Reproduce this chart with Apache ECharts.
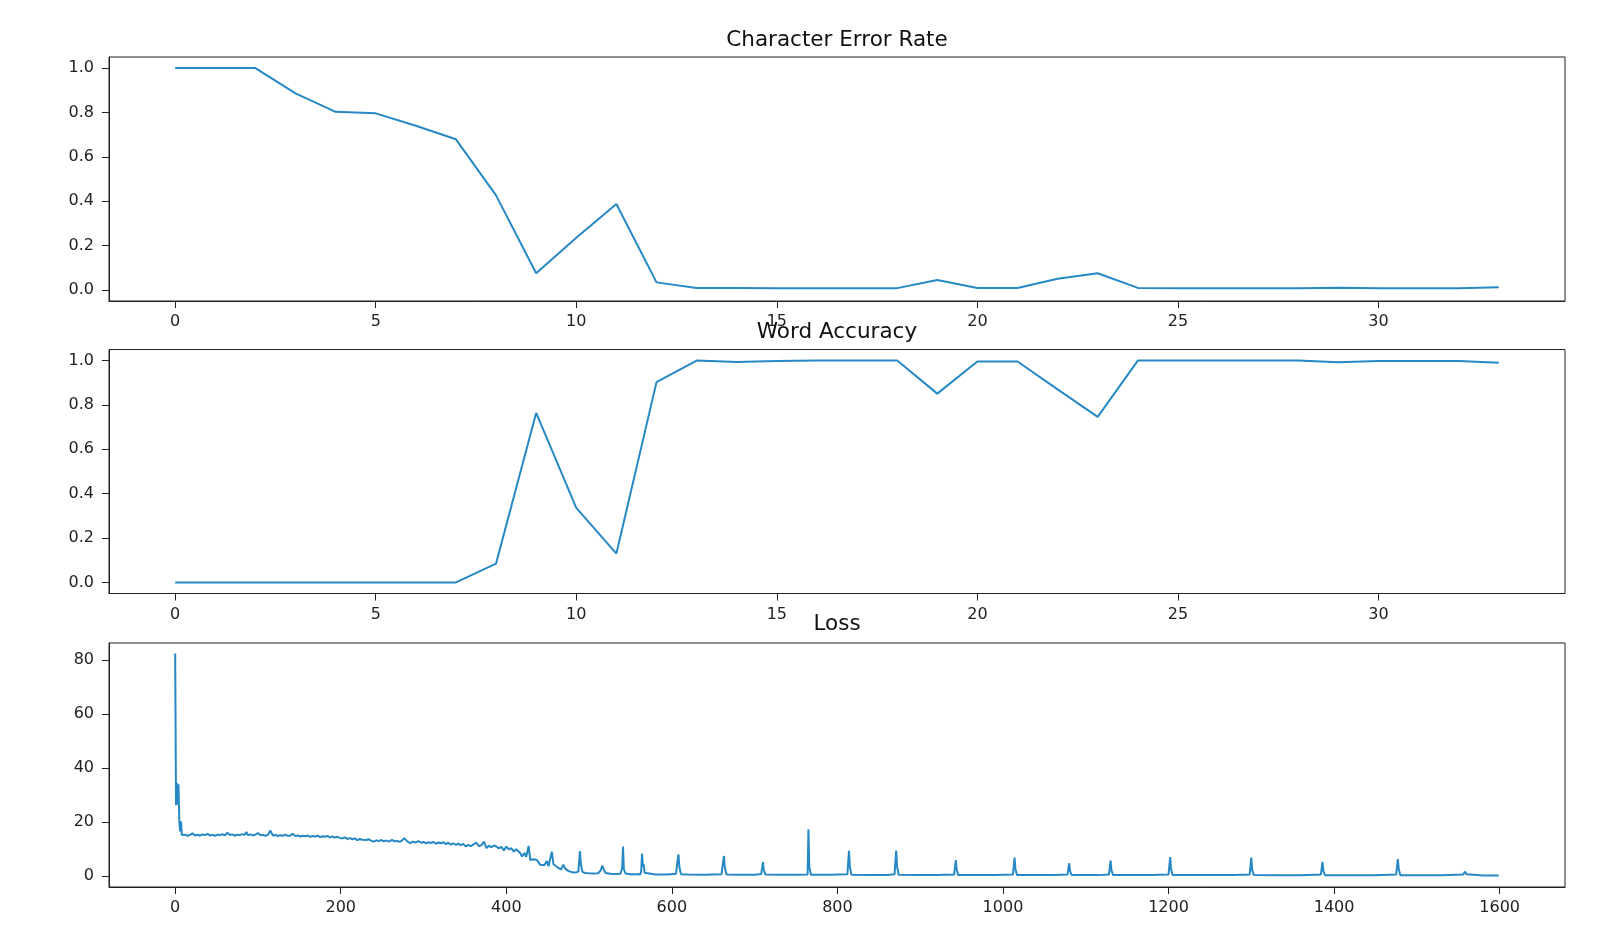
<!DOCTYPE html>
<html>
<head>
<meta charset="utf-8">
<script src="https://cdn.jsdelivr.net/npm/echarts@6/dist/echarts.min.js"></script>
<style>
html,body{margin:0;padding:0;background:#fff;}
#chart{width:1600px;height:949px;}
</style>
</head>
<body>
<div id="chart"></div>
<script>
// ---------------- DATA ----------------
const epochs = [0,1,2,3,4,5,6,7,8,9,10,11,12,13,14,15,16,17,18,19,20,21,22,23,24,25,26,27,28,29,30,31,32,33];

const cerValues = [1.0,1.0,1.0,0.886,0.803,0.796,0.740,0.679,0.426,0.075,0.235,0.387,0.034,0.009,0.009,0.008,0.008,0.008,0.008,0.045,0.009,0.009,0.050,0.075,0.009,0.008,0.008,0.008,0.008,0.010,0.008,0.008,0.008,0.012];

const wordAccValues = [0.0,0.0,0.0,0.0,0.0,0.0,0.0,0.0,0.085,0.764,0.336,0.130,0.903,1.0,0.994,0.998,1.0,1.0,1.0,0.851,0.996,0.996,0.870,0.746,1.0,1.0,1.0,1.0,1.0,0.992,0.998,0.998,0.998,0.990];

// [training step, loss]
const lossPoints = [
[0,82.4],[1,26.2],[2,34.5],[3,26.5],[4,34.0],[5,19.8],[6,16.5],[7,20.2],[8,15.2],
[9,15.0],[12,15.3],[15,14.9],[18,15.2],[21,15.8],[24,15.0],[27,15.3],[30,14.9],[33,15.4],[36,15.1],
[39,15.6],[42,15.0],[45,15.2],[48,14.9],[51,15.3],[54,15.1],[57,15.5],[60,15.0],[63,16.0],[66,15.2],
[69,15.4],[72,14.9],[75,15.3],[78,15.1],[81,15.5],[84,15.2],[86,16.3],[88,15.1],[91,15.4],[94,15.0],
[97,15.3],[100,15.9],[103,15.1],[106,15.2],[109,14.9],[112,15.2],[115,16.8],[118,15.0],[121,15.2],[124,14.8],
[127,15.1],[130,14.9],[133,15.3],[136,14.8],[139,15.0],[142,15.6],[145,14.8],[148,15.0],[151,14.6],[154,14.9],
[157,14.7],[160,15.0],[163,14.5],[166,14.8],[169,14.6],[172,14.9],[175,14.4],[178,14.7],[181,14.5],[184,14.8],
[187,14.3],[190,14.6],[193,14.2],[196,14.5],[199,14.1],[202,13.9],[205,14.3],[208,13.7],[211,14.0],[214,13.6],
[217,13.9],[220,13.2],[223,13.7],[226,13.4],[228,14.1],[231,13.3],[234,13.6],[237,13.0],[240,12.7],[243,13.2],
[246,12.9],[249,13.3],[252,12.8],[255,13.1],[258,12.7],[262,13.4],[265,12.8],[268,13.0],[271,12.6],[274,13.1],
[277,14.0],[280,12.9],[284,12.1],[287,12.7],[290,12.4],[294,12.9],[297,12.3],[300,12.6],[303,12.1],[306,12.5],
[309,12.2],[312,12.6],[315,11.9],[318,12.4],[321,12.1],[324,12.5],[327,11.8],[330,12.3],[333,11.6],[336,12.1],
[339,11.5],[342,12.0],[345,11.4],[348,11.9],[351,10.9],[354,11.5],[357,11.0],[360,11.6],[364,12.3],[367,11.0],
[370,11.4],[373,12.7],[376,10.3],[379,11.2],[382,10.6],[385,11.3],[388,10.9],[391,10.2],[394,10.8],[397,9.4],
[400,10.9],[403,9.8],[406,10.3],[409,9.0],[412,9.9],[414,10.4],[417,8.4],[419,7.2],[422,8.5],[424,7.0],
[427,11.1],[429,5.9],[431,6.6],[433,6.2],[435,6.8],[437,5.9],[439,5.3],[441,4.1],[443,4.7],[446,4.0],
[449,5.5],[451,3.6],[453,3.9],[455,9.0],[457,4.3],[460,3.6],[463,3.0],[466,2.4],[469,4.2],[471,2.8],
[474,2.0],[477,1.6],[480,1.4],[484,1.3],[487,1.6],[489,9.2],[490,4.5],[492,1.5],[495,1.1],[500,1.0],
[506,0.9],[511,1.0],[514,2.0],[516,3.8],[518,2.2],[520,1.1],[526,0.8],[532,0.7],[538,0.8],[540,3.0],
[541,10.9],[542,2.5],[544,0.9],[550,0.6],[557,0.6],[562,0.6],[563,2.0],[564,8.3],[565,3.5],[566,4.3],
[567,1.2],[569,0.6],[580,0.5],[595,0.5],[605,0.8],[607,6.0],[608,8.0],[609,3.5],[611,0.6],[620,0.5],
[640,0.4],[660,0.6],[662,5.5],[663,7.4],[664,3.0],[666,0.5],[680,0.4],[700,0.4],[708,0.7],[710,5.1],
[711,2.4],[713,0.5],[730,0.4],[750,0.4],[764,0.5],[765,17.3],[766,3.5],[768,0.4],[790,0.4],[812,0.6],
[814,9.3],[815,3.5],[817,0.4],[840,0.35],[860,0.35],[869,0.6],[871,9.4],[872,3.6],[874,0.4],[900,0.35],
[920,0.3],[941,0.5],[943,5.9],[944,2.4],[946,0.3],[970,0.3],[990,0.3],[1012,0.5],[1014,6.8],[1015,2.6],
[1017,0.3],[1040,0.3],[1060,0.3],[1078,0.5],[1080,4.7],[1081,1.9],[1083,0.3],[1100,0.3],[1115,0.3],[1128,0.5],
[1130,5.7],[1131,2.2],[1133,0.3],[1160,0.3],[1180,0.3],[1200,0.5],[1202,7.0],[1203,2.6],[1205,0.3],[1230,0.3],
[1260,0.3],[1280,0.3],[1298,0.5],[1300,6.8],[1301,2.4],[1303,0.3],[1330,0.25],[1360,0.25],[1384,0.5],[1386,5.2],
[1387,1.9],[1389,0.25],[1420,0.25],[1450,0.25],[1475,0.5],[1477,6.2],[1478,2.8],[1480,0.25],[1500,0.25],[1530,0.25],
[1556,0.5],[1558,1.6],[1560,0.6],[1562,0.25],[1580,0.2],[1599,0.2]
];

const epochTicks = [0,5,10,15,20,25,30];
const rateTicks = [0.0,0.2,0.4,0.6,0.8,1.0];
const stepTicks = [0,200,400,600,800,1000,1200,1400,1600];
const lossTicks = [0,20,40,60,80];

const titles = ['Character Error Rate','Word Accuracy','Loss'];

// ---------------- STYLE / LAYOUT ----------------
const LINE_COLOR = '#2688c4';
const FRAME = '#222';
const FONT = 'DejaVu Sans';
const TICK_FS = 16;
const gridLeft = 109, gridWidth = 1456, gridHeight = 244;
const gridTops = [57, 349.5, 643];
const titleY = [40, 332.5, 624.5];
const titleX = gridLeft + gridWidth / 2;

function xAxisCfg(idx, min, max, ticks) {
  return {
    type: 'value', gridIndex: idx, min: min, max: max,
    splitLine: {show: false},
    axisLine: {show: true, onZero: false, lineStyle: {color: FRAME, width: 1}},
    axisTick: {show: true, length: 7, inside: false, customValues: ticks, lineStyle: {color: FRAME, width: 1}},
    axisLabel: {show: true, margin: 13, customValues: ticks, color: '#222', fontFamily: FONT, fontSize: TICK_FS,
                formatter: v => String(v)}
  };
}
function yAxisCfg(idx, min, max, ticks, fmt) {
  return {
    type: 'value', gridIndex: idx, min: min, max: max,
    splitLine: {show: false},
    axisLine: {show: true, onZero: false, lineStyle: {color: FRAME, width: 1}},
    axisTick: {show: true, length: 7, inside: false, customValues: ticks, lineStyle: {color: FRAME, width: 1}},
    axisLabel: {show: true, margin: 15, customValues: ticks, color: '#222', fontFamily: FONT, fontSize: TICK_FS, formatter: fmt}
  };
}

const chart = echarts.init(document.getElementById('chart'), null, {renderer: 'canvas'});

const option = {
  animation: false,
  backgroundColor: '#fff',
  grid: gridTops.map(t => ({
    left: gridLeft, top: t, width: gridWidth, height: gridHeight,
    show: true, borderColor: FRAME, borderWidth: 1, backgroundColor: 'transparent', containLabel: false
  })),
  xAxis: [
    xAxisCfg(0, -1.65, 34.65, epochTicks),
    xAxisCfg(1, -1.65, 34.65, epochTicks),
    xAxisCfg(2, -79.95, 1678.95, stepTicks)
  ],
  yAxis: [
    yAxisCfg(0, -0.05, 1.05, rateTicks, v => v.toFixed(1)),
    yAxisCfg(1, -0.05, 1.05, rateTicks, v => v.toFixed(1)),
    yAxisCfg(2, -4.1, 86.3, lossTicks, v => String(Math.round(v)))
  ],
  graphic: titles.map((t, i) => ({
    type: 'text', x: titleX, y: titleY[i], z: 100,
    style: {text: t, fill: '#111', font: '21.5px "' + FONT + '"', align: 'center', verticalAlign: 'middle'}
  })),
  series: [
    {type: 'line', xAxisIndex: 0, yAxisIndex: 0, showSymbol: false, silent: true,
     lineStyle: {color: LINE_COLOR, width: 2}, data: epochs.map((e, i) => [e, cerValues[i]])},
    {type: 'line', xAxisIndex: 1, yAxisIndex: 1, showSymbol: false, silent: true,
     lineStyle: {color: LINE_COLOR, width: 2}, data: epochs.map((e, i) => [e, wordAccValues[i]])},
    {type: 'line', xAxisIndex: 2, yAxisIndex: 2, showSymbol: false, silent: true,
     lineStyle: {color: LINE_COLOR, width: 2}, data: lossPoints}
  ]
};
chart.setOption(option);
</script>
</body>
</html>
